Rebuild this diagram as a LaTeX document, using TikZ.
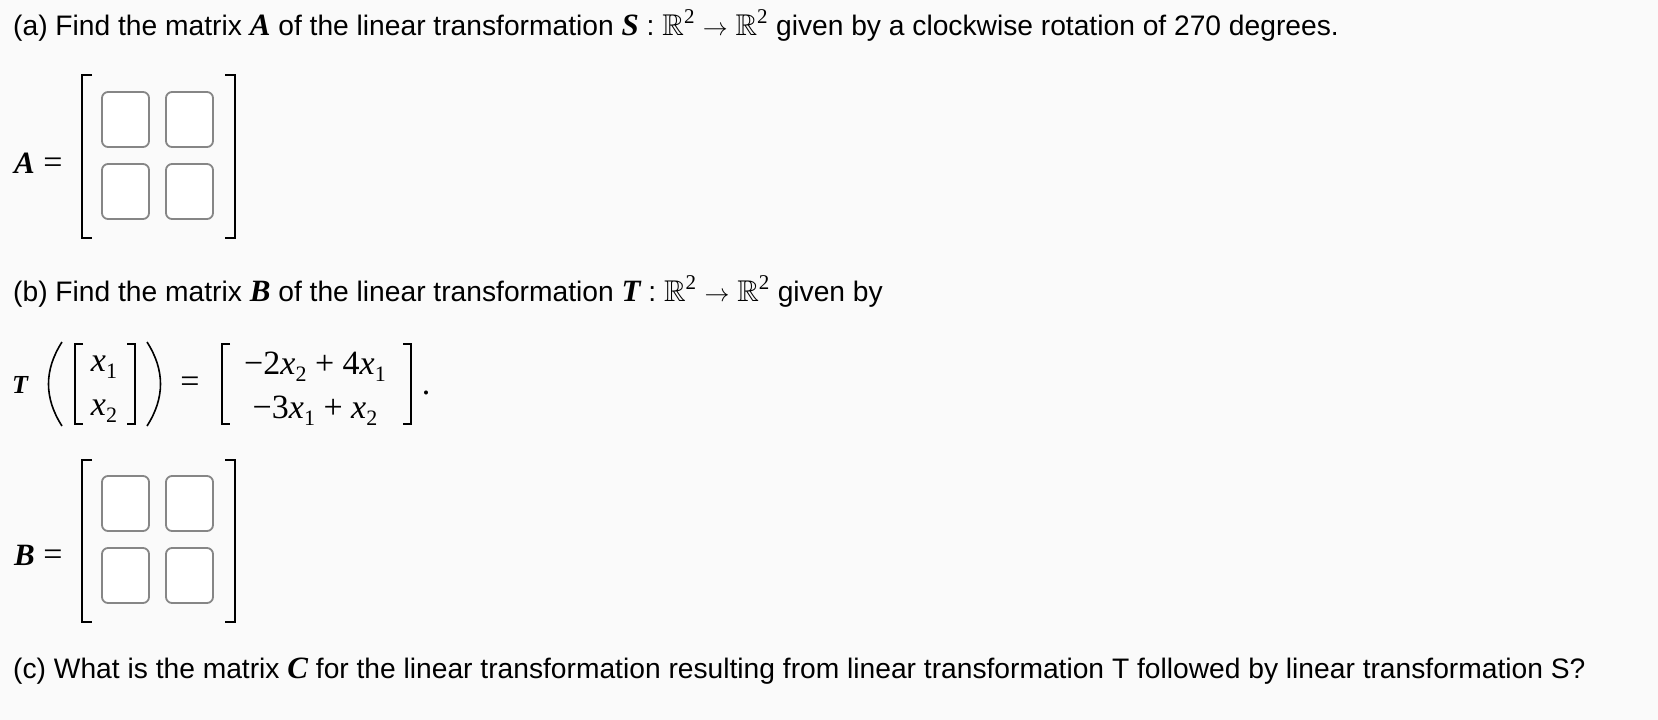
\documentclass[tikz,border=0pt]{standalone}
\usepackage{amssymb}
\usepackage{fontspec}
\setmainfont{Liberation Sans}
\newfontfamily\msr{Liberation Serif}
\newcommand\mv[1]{{\msr\fontsize{31}{31}\selectfont\bfseries\itshape #1}}
\newcommand\RR{{\fontsize{30}{30}\selectfont$\mathbb{R}^{\raisebox{3pt}{\msr\fontsize{21}{21}\selectfont 2}}$}}
\newcommand\xs[2]{{\msr\itshape x}\raisebox{-7pt}{\msr\fontsize{22}{22}\selectfont #2}}
\begin{document}
\begin{tikzpicture}[x=1pt,y=-1pt,
  txt/.style={anchor=west,inner sep=0pt,font=\fontsize{28.2}{32}\selectfont},
  mth/.style={inner sep=0pt,font=\msr\fontsize{34}{36}\selectfont},
  box/.style={draw=gray!95,line width=1.8pt,rounded corners=6pt,fill=white,minimum width=47pt,minimum height=55pt,inner sep=0pt},
  brk/.style={line width=2.2pt,black}]
\useasboundingbox (0,0) rectangle (1658,720);
\fill[white!98!black] (0,0) rectangle (1658,720);
\node[txt] (ta) at (13,25) {(a) Find the matrix \mv{A} of the linear transformation \mv{S} : \RR{} $\rightarrow$ \RR{} given by a clockwise rotation of 270 degrees.};
% matrix A
\node[mth,anchor=west] (la) at (14,163) {\mv{A} =};
\draw[brk] (92,75) -- (82,75) -- (82,238) -- (92,238);
\draw[brk] (225,75) -- (235,75) -- (235,238) -- (225,238);
\node[box] (a11) at (125.5,119.5) {};
\node[box] (a12) at (189.5,119.5) {};
\node[box] (a21) at (125.5,191.5) {};
\node[box] (a22) at (189.5,191.5) {};
\node[txt] (tb) at (13,291) {(b) Find the matrix \mv{B} of the linear transformation \mv{T} : \RR{} $\rightarrow$ \RR{} given by};
% T equation
\node[anchor=west,inner sep=0pt] (T) at (12,385) {\msr\fontsize{26}{26}\selectfont\bfseries\itshape T};
\draw[line width=1.6pt] (62,342) .. controls (44,370) and (44,398) .. (62,426);
\draw[line width=1.6pt] (147,342) .. controls (165,370) and (165,398) .. (147,426);
\draw[brk,line width=1.8pt] (83,344) -- (75,344) -- (75,424) -- (83,424);
\draw[brk,line width=1.8pt] (127,344) -- (135,344) -- (135,424) -- (127,424);
\node[mth] (x1) at (104,367) {\xs{x}{1}};
\node[mth] (x2) at (104,411) {\xs{x}{2}};
\node[mth] (eq) at (190,385) {=};
\draw[brk,line width=1.8pt] (230,344) -- (222,344) -- (222,424) -- (230,424);
\draw[brk,line width=1.8pt] (403,344) -- (411,344) -- (411,424) -- (403,424);
\node[mth] (r1) at (315,367) {\textminus2\xs{x}{2} + 4\xs{x}{1}};
\node[mth] (r2) at (315,411) {\textminus3\xs{x}{1} + \xs{x}{2}};
\node[mth] (dot) at (426,393) {.};
% matrix B
\node[mth,anchor=west] (lb) at (14,555) {\mv{B} =};
\draw[brk] (92,460) -- (82,460) -- (82,622) -- (92,622);
\draw[brk] (225,460) -- (235,460) -- (235,622) -- (225,622);
\node[box] (b11) at (125.5,503.5) {};
\node[box] (b12) at (189.5,503.5) {};
\node[box] (b21) at (125.5,575.5) {};
\node[box] (b22) at (189.5,575.5) {};
\node[txt] (tc) at (13,671) {(c) What is the matrix \mv{C} for the linear transformation resulting from linear transformation T followed by linear transformation S?};
\end{tikzpicture}
\end{document}
